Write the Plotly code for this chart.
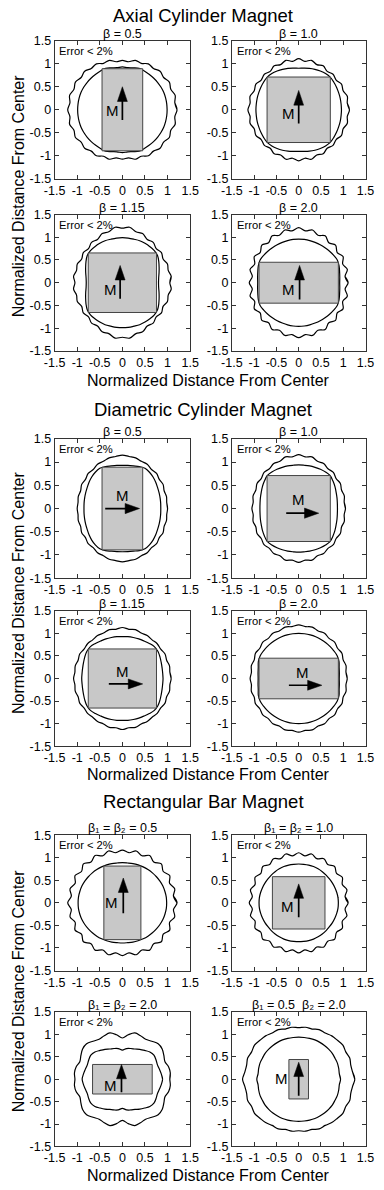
import math
import plotly.graph_objects as go

# ---------------- data ----------------
ANGLES_DEG = [0, 7.5, 15, 22.5, 30, 37.5, 45, 52.5, 60, 67.5, 75, 82.5, 90]

GROUP_TITLES = ["Axial Cylinder Magnet", "Diametric Cylinder Magnet", "Rectangular Bar Magnet"]
AXIS_LABEL = "Normalized Distance From Center"
ERROR_NOTE = "Error &lt; 2%"
PANEL_TITLES = [
    "β = 0.5", "β = 1.0", "β = 1.15", "β = 2.0",
    "β = 0.5", "β = 1.0", "β = 1.15", "β = 2.0",
    "β₁ = β₂ = 0.5", "β₁ = β₂ = 1.0",
    "β₁ = β₂ = 2.0", "β₁ = 0.5  β₂ = 2.0",
]

TICK_VALS = [-1.5, -1, -0.5, 0, 0.5, 1, 1.5]
TICK_TEXT = ["-1.5", "-1", "-0.5", "0", "0.5", "1", "1.5"]

# magnet half-width / half-height (normalized units)
RECT_HALF_W = [0.45, 0.71, 0.755, 0.89, 0.45, 0.71, 0.755, 0.89, 0.41, 0.59, 0.66, 0.22]
RECT_HALF_H = [0.89, 0.71, 0.655, 0.45, 0.89, 0.71, 0.655, 0.45, 0.815, 0.58, 0.33, 0.44]

# magnetization arrow (tail -> tip) and "M" label position
ARROW_TAIL_X = [0, 0, -0.05, 0.02, -0.38, -0.28, -0.30, -0.22, 0.02, 0, -0.02, 0]
ARROW_TAIL_Y = [-0.22, -0.30, -0.35, -0.37, 0, -0.10, -0.12, -0.15, -0.23, -0.32, -0.29, -0.37]
ARROW_TIP_X = [0, 0, -0.05, 0.02, 0.38, 0.45, 0.45, 0.52, 0.02, 0, -0.02, 0]
ARROW_TIP_Y = [0.50, 0.42, 0.38, 0.38, 0, -0.10, -0.12, -0.15, 0.55, 0.42, 0.33, 0.38]
M_X = [-0.22, -0.22, -0.27, -0.22, 0.0, 0.0, 0.0, 0.08, -0.24, -0.26, -0.26, -0.38]
M_Y = [-0.02, -0.08, -0.15, -0.15, 0.29, 0.19, 0.16, 0.14, 0.0, -0.08, -0.15, 0.02]

# contour radii in the first quadrant (angles ANGLES_DEG), mirrored to the others
OUTER_R = [
    [1.21, 1.17, 1.21, 1.16, 1.20, 1.15, 1.18, 1.13, 1.15, 1.09, 1.11, 1.05, 1.07],
    [1.14, 1.10, 1.13, 1.08, 1.11, 1.06, 1.09, 1.05, 1.10, 1.06, 1.11, 1.06, 1.11],
    [1.05, 1.09, 1.05, 1.08, 1.04, 1.09, 1.06, 1.12, 1.10, 1.17, 1.16, 1.23, 1.20],
    [1.11, 1.05, 1.13, 1.07, 1.15, 1.09, 1.17, 1.11, 1.19, 1.13, 1.20, 1.15, 1.21],
    [1.00, 0.99, 1.01, 1.00, 1.04, 1.03, 1.07, 1.06, 1.10, 1.10, 1.13, 1.13, 1.15],
    [1.05, 1.03, 1.06, 1.04, 1.08, 1.06, 1.10, 1.08, 1.12, 1.10, 1.15, 1.12, 1.16],
    [1.08, 1.06, 1.08, 1.06, 1.09, 1.07, 1.09, 1.08, 1.10, 1.09, 1.12, 1.10, 1.13],
    [1.09, 1.07, 1.10, 1.08, 1.12, 1.10, 1.14, 1.12, 1.16, 1.14, 1.18, 1.16, 1.19],
    [1.21, 1.14, 1.20, 1.13, 1.21, 1.14, 1.22, 1.14, 1.21, 1.13, 1.19, 1.12, 1.17],
    [1.11, 1.05, 1.12, 1.06, 1.13, 1.07, 1.14, 1.07, 1.13, 1.06, 1.12, 1.05, 1.11],
    [1.05, 1.07, 1.06, 1.02, 1.06, 1.11, 1.12, 1.07, 1.03, 1.05, 1.07, 1.00, 0.92],
    [1.26, 1.22, 1.21, 1.24, 1.22, 1.25, 1.23, 1.22, 1.19, 1.20, 1.16, 1.17, 1.15],
]
INNER_R = [
    [0.99, 0.99, 0.99, 0.99, 0.985, 0.98, 0.975, 0.97, 0.97, 0.97, 0.94, 0.92, 0.93],
    [0.96, 0.96, 0.965, 0.97, 0.98, 0.99, 1.0, 0.99, 0.97, 0.95, 0.93, 0.91, 0.90],
    [0.80, 0.81, 0.84, 0.88, 0.93, 0.98, 1.0, 1.0, 1.0, 1.0, 0.99, 0.99, 0.99],
    [0.92, 0.93, 0.95, 0.98, 1.0, 0.99, 0.98, 0.97, 0.965, 0.96, 0.96, 0.96, 0.96],
    [0.85, 0.855, 0.865, 0.88, 0.90, 0.93, 0.96, 0.985, 1.0, 0.98, 0.95, 0.935, 0.93],
    [0.87, 0.875, 0.89, 0.91, 0.94, 0.97, 1.0, 0.99, 0.975, 0.96, 0.95, 0.94, 0.94],
    [0.90, 0.90, 0.91, 0.93, 0.96, 0.99, 1.0, 0.98, 0.96, 0.95, 0.94, 0.935, 0.93],
    [0.91, 0.92, 0.94, 0.98, 1.0, 1.0, 1.0, 1.0, 1.0, 1.0, 1.0, 1.0, 1.0],
    [0.98, 0.98, 0.975, 0.97, 0.96, 0.95, 0.94, 0.93, 0.92, 0.91, 0.90, 0.89, 0.89],
    [0.89, 0.89, 0.885, 0.88, 0.875, 0.87, 0.87, 0.87, 0.87, 0.87, 0.865, 0.86, 0.86],
    [0.89, 0.87, 0.85, 0.84, 0.86, 0.88, 0.86, 0.81, 0.77, 0.73, 0.71, 0.69, 0.65],
    [0.94, 0.92, 0.93, 0.94, 0.94, 0.95, 0.95, 0.95, 0.95, 0.95, 0.945, 0.94, 0.94],
]

# ---------------- layout / style ----------------
W, H = 384, 1190
COL_X = [(46, 189), (233, 374)]
ROW_Y = [(34, 174), (210, 348), (437, 578), (611, 748), (838, 975), (1017, 1153)]
GROUP_TITLE_Y = [9, 407, 804]
XLABEL_Y = [378, 777, 1182]
FONT = "Liberation Sans, Arial, Helvetica, sans-serif"
HEAD_LEN = 0.32      # arrow head length (axis units)
HEAD_HALF = 0.11     # arrow head half-width (axis units)


def py(p):
    return 1 - p / H


def px(p):
    return p / W


def closed_loop(radii):
    angs = list(ANGLES_DEG)
    n = len(angs)
    pts = []
    for i in range(n):
        pts.append((angs[i], radii[i]))
    for i in range(n - 2, -1, -1):
        pts.append((180 - angs[i], radii[i]))
    for i in range(1, n):
        pts.append((180 + angs[i], radii[i]))
    for i in range(n - 2, -1, -1):
        pts.append((360 - angs[i], radii[i]))
    pts.append(pts[1])
    xs = [r * math.cos(math.radians(a)) for a, r in pts]
    ys = [r * math.sin(math.radians(a)) for a, r in pts]
    return xs, ys


fig = go.Figure()
layout = dict(
    width=W, height=H, autosize=False,
    margin=dict(l=0, r=0, t=0, b=0),
    plot_bgcolor="white", paper_bgcolor="white",
    showlegend=False,
    font=dict(family=FONT, color="black"),
)
annotations = []
shapes = []

for k in range(12):
    row, col = divmod(k, 2)
    n = "" if k == 0 else str(k + 1)
    xname, yname = "x" + n, "y" + n
    x0p, x1p = COL_X[col]
    y0p, y1p = ROW_Y[row]
    axis_common = dict(
        range=[-1.5, 1.5], tickvals=TICK_VALS, ticktext=TICK_TEXT,
        ticks="inside", ticklen=4, tickcolor="#333", tickwidth=1,
        showline=True, linecolor="#333", linewidth=1, mirror="ticks",
        showgrid=False, zeroline=False, tickangle=0, fixedrange=True,
        ticklabeloverflow="allow",
        tickfont=dict(size=12.5, family=FONT, color="black"),
    )
    layout["xaxis" + n] = dict(axis_common, domain=[px(x0p), px(x1p)], anchor=yname)
    layout["yaxis" + n] = dict(axis_common, domain=[py(y1p), py(y0p)], anchor=xname)

    for radii in (OUTER_R[k], INNER_R[k]):
        xs, ys = closed_loop(radii)
        fig.add_trace(go.Scatter(
            x=xs, y=ys, mode="lines", xaxis=xname, yaxis=yname,
            line=dict(color="black", width=1.2, shape="spline", smoothing=1.0),
            hoverinfo="skip",
        ))

    shapes.append(dict(
        type="rect", xref=xname, yref=yname, layer="above",
        x0=-RECT_HALF_W[k], x1=RECT_HALF_W[k], y0=-RECT_HALF_H[k], y1=RECT_HALF_H[k],
        fillcolor="#c8c8c8", line=dict(color="#444", width=1),
    ))

    # arrow: stem + filled head (drawn above the magnet rectangle)
    tx, ty = ARROW_TAIL_X[k], ARROW_TAIL_Y[k]
    hx, hy = ARROW_TIP_X[k], ARROW_TIP_Y[k]
    L = math.hypot(hx - tx, hy - ty)
    ux, uy = (hx - tx) / L, (hy - ty) / L
    bx, by = hx - HEAD_LEN * ux, hy - HEAD_LEN * uy
    shapes.append(dict(
        type="line", xref=xname, yref=yname, layer="above",
        x0=tx, y0=ty, x1=bx + 0.05 * ux, y1=by + 0.05 * uy,
        line=dict(color="black", width=1.7),
    ))
    shapes.append(dict(
        type="path", xref=xname, yref=yname, layer="above",
        path=(f"M{hx},{hy} L{bx - HEAD_HALF * uy},{by + HEAD_HALF * ux} "
              f"L{bx + HEAD_HALF * uy},{by - HEAD_HALF * ux} Z"),
        fillcolor="black", line=dict(color="black", width=0.5),
    ))

    annotations.append(dict(
        xref=xname, yref=yname, x=M_X[k], y=M_Y[k], text="M", showarrow=False,
        font=dict(size=15, family=FONT, color="black"),
        xanchor="center", yanchor="middle",
    ))
    annotations.append(dict(
        xref=xname + " domain", yref=yname + " domain", x=0.02, y=0.985,
        text=ERROR_NOTE, showarrow=False, xanchor="left", yanchor="top",
        font=dict(size=11.2, family=FONT, color="black"),
    ))
    annotations.append(dict(
        xref="paper", yref="paper", x=px((x0p + x1p) / 2), y=py(y0p - 7),
        text=PANEL_TITLES[k], showarrow=False, xanchor="center", yanchor="middle",
        font=dict(size=12.5, family=FONT, color="black"),
    ))

for g in range(3):
    top = ROW_Y[2 * g][0]
    bot = ROW_Y[2 * g + 1][1]
    annotations.append(dict(
        xref="paper", yref="paper", x=px(203), y=py(GROUP_TITLE_Y[g]),
        text=GROUP_TITLES[g], showarrow=False, xanchor="center", yanchor="middle",
        font=dict(size=18.5, family=FONT, color="black"),
    ))
    annotations.append(dict(
        xref="paper", yref="paper", x=px(208), y=py(XLABEL_Y[g]),
        text=AXIS_LABEL, showarrow=False, xanchor="center", yanchor="middle",
        font=dict(size=16, family=FONT, color="black"),
    ))
    annotations.append(dict(
        xref="paper", yref="paper", x=px(0), y=py((top + bot) / 2),
        text=AXIS_LABEL, showarrow=False, xanchor="left", yanchor="middle",
        xshift=-3,
        textangle=-90, font=dict(size=16, family=FONT, color="black"),
    ))

layout["annotations"] = annotations
layout["shapes"] = shapes
fig.update_layout(**layout)
fig.write_html(
    "out.html",
    config={"displayModeBar": False, "staticPlot": True},
    post_script="document.body.style.margin='0';document.body.style.padding='0';"
                "document.body.style.overflow='hidden';",
)
